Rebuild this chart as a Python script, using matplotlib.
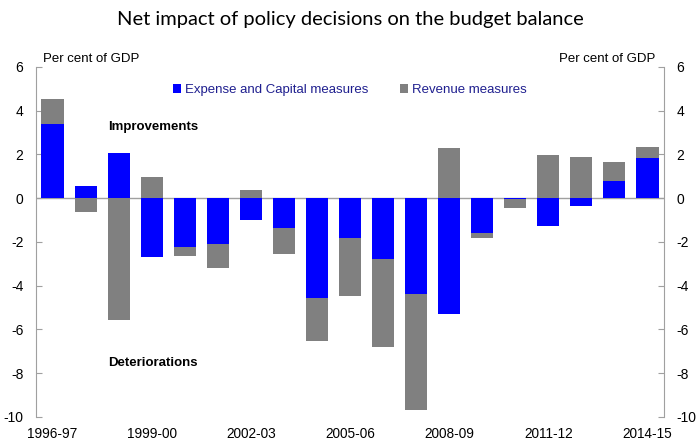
import matplotlib.pyplot as plt
import numpy as np

years = ["1996-97", "1997-98", "1998-99", "1999-00", "2000-01", "2001-02",
         "2002-03", "2003-04", "2004-05", "2005-06", "2006-07", "2007-08",
         "2008-09", "2009-10", "2010-11", "2011-12", "2012-13", "2013-14",
         "2014-15"]
expense = [3.4, 0.58, 2.08, -2.69, -2.22, -2.07, -0.99, -1.37, -4.55, -1.81,
           -2.76, -4.38, -5.28, -1.58, -0.05, -1.26, -0.35, 0.79, 1.85]
revenue = [1.15, -0.64, -5.55, 0.96, -0.43, -1.11, 0.39, -1.2, -1.97, -2.65,
           -4.03, -5.29, 2.31, -0.23, -0.41, 1.98, 1.87, 0.85, 0.51]
yticks = [6, 4, 2, 0, -2, -4, -6, -8, -10]

plt.rcParams['font.family'] = ['Liberation Sans', 'DejaVu Sans']
fs = 9.5

fig = plt.figure(figsize=(7, 4.43), dpi=100)
ax = fig.add_axes([0.0514, 0.0587, 0.8972, 0.7901])

x = np.arange(len(years))
exp = np.array(expense)
rev = np.array(revenue)
# stack revenue on top of expense when signs agree, otherwise from zero
base = np.where(np.sign(exp) == np.sign(rev), exp, 0)

w = 0.667
ax.bar(x, exp, w, color="#0000FF", label="Expense and Capital measures", zorder=2)
ax.bar(x, rev, w, bottom=base, color="#808080", label="Revenue measures", zorder=2)

ax.axhline(0, color="#a0a0a0", lw=1, zorder=1)
ax.set_xlim(-0.5, len(years) - 0.5)
ax.set_ylim(-10, 6)
ax.set_yticks(yticks)
ax.set_yticklabels([str(t) for t in yticks])
ax.tick_params(axis="y", direction="in", length=4, color="#a0a0a0",
               labelsize=fs + 0.5, pad=9, left=True, right=True,
               labelleft=True, labelright=False)
ax.set_xticks(x[::3])
ax.set_xticklabels(years[::3], fontsize=fs + 0.3)
ax.tick_params(axis="x", length=0, pad=7)

for s in ["top", "bottom"]:
    ax.spines[s].set_visible(False)
for s in ["left", "right"]:
    ax.spines[s].set_color("#a0a0a0")

ax2 = ax.secondary_yaxis("right")
ax2.set_yticks(yticks)
ax2.set_yticklabels([str(t) for t in yticks])
ax2.tick_params(direction="in", length=0, labelsize=fs + 0.5, pad=9)
ax2.spines["right"].set_visible(False)

fig.text(0.5, 0.955, "Net impact of policy decisions on the budget balance",
         ha="center", va="center", fontsize=14.5, family="Lato")
fig.text(0.061, 0.866, "Per cent of GDP", fontsize=fs, va="center")
fig.text(0.936, 0.866, "Per cent of GDP", fontsize=fs, va="center", ha="right")

ax.text(1.68, 3.27, "Improvements", fontsize=fs, fontweight="bold", va="center")
ax.text(1.68, -7.53, "Deteriorations", fontsize=fs, fontweight="bold", va="center")

leg = ax.legend(loc="center", bbox_to_anchor=(0.5, 0.934), ncol=2,
                frameon=False, fontsize=fs, handlelength=0.6,
                handleheight=0.6, handletextpad=0.3, columnspacing=2.4)
for t in leg.get_texts():
    t.set_color("#1f1f8f")

fig.savefig("out.png", dpi=100)
